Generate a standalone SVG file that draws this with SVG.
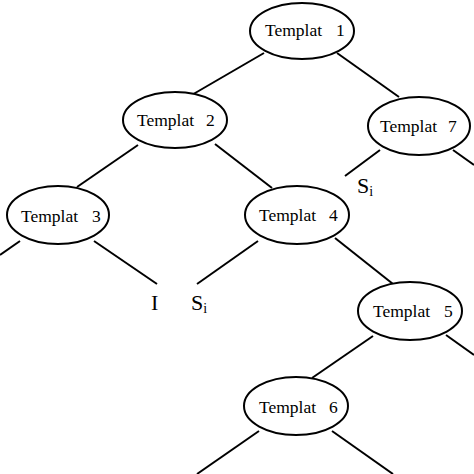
<svg xmlns="http://www.w3.org/2000/svg" width="474" height="474" viewBox="0 0 474 474">
<style>
.n ellipse{fill:#fff;stroke:#000;stroke-width:2}
.n text,.lb{font-family:"Liberation Serif","Times New Roman",serif;fill:#000}
.n text{font-size:17.5px}
.lb{font-size:22px}
.lb tspan{font-size:14px}
#edges line{stroke:#000;stroke-width:2}
</style>
<rect width="474" height="474" fill="#fff"/>
<g id="edges">
<line x1="264" y1="53" x2="190" y2="96"/>
<line x1="337" y1="53" x2="399" y2="97"/>
<line x1="380" y1="150" x2="345" y2="176"/>
<line x1="453" y1="150" x2="474" y2="165"/>
<line x1="138" y1="145" x2="77" y2="187"/>
<line x1="215" y1="144" x2="272" y2="188"/>
<line x1="20" y1="241" x2="0" y2="255"/>
<line x1="94" y1="241" x2="157" y2="284"/>
<line x1="258" y1="241" x2="197" y2="284"/>
<line x1="335" y1="238" x2="393" y2="284"/>
<line x1="446" y1="335" x2="474" y2="355"/>
<line x1="373" y1="336" x2="312" y2="378"/>
<line x1="259" y1="431" x2="197" y2="474"/>
<line x1="332" y1="431" x2="393" y2="474"/>
</g>
<g id="node1" class="n"><ellipse cx="302" cy="31" rx="52" ry="28"/><text><tspan x="265" y="36">Templat</tspan><tspan x="336" y="36">1</tspan></text></g>
<g id="node2" class="n"><ellipse cx="175" cy="120" rx="52" ry="28"/><text><tspan x="137" y="126">Templat</tspan><tspan x="206" y="126">2</tspan></text></g>
<g id="node3" class="n"><ellipse cx="58" cy="215" rx="51" ry="29"/><text><tspan x="21" y="222">Templat</tspan><tspan x="92" y="222">3</tspan></text></g>
<g id="node4" class="n"><ellipse cx="297" cy="215" rx="52" ry="29"/><text><tspan x="259" y="221">Templat</tspan><tspan x="329" y="221">4</tspan></text></g>
<g id="node5" class="n"><ellipse cx="410" cy="311" rx="52" ry="29"/><text><tspan x="373" y="317">Templat</tspan><tspan x="444" y="317">5</tspan></text></g>
<g id="node6" class="n"><ellipse cx="296" cy="406" rx="52" ry="29"/><text><tspan x="259" y="413">Templat</tspan><tspan x="329" y="413">6</tspan></text></g>
<g id="node7" class="n"><ellipse cx="419" cy="126" rx="51" ry="29"/><text><tspan x="380" y="132">Templat</tspan><tspan x="448" y="132">7</tspan></text></g>
<text class="lb" x="357" y="193">S<tspan dy="3">i</tspan></text>
<text class="lb" x="151" y="310">I</text>
<text class="lb" x="191" y="310">S<tspan dy="3">i</tspan></text>
</svg>
